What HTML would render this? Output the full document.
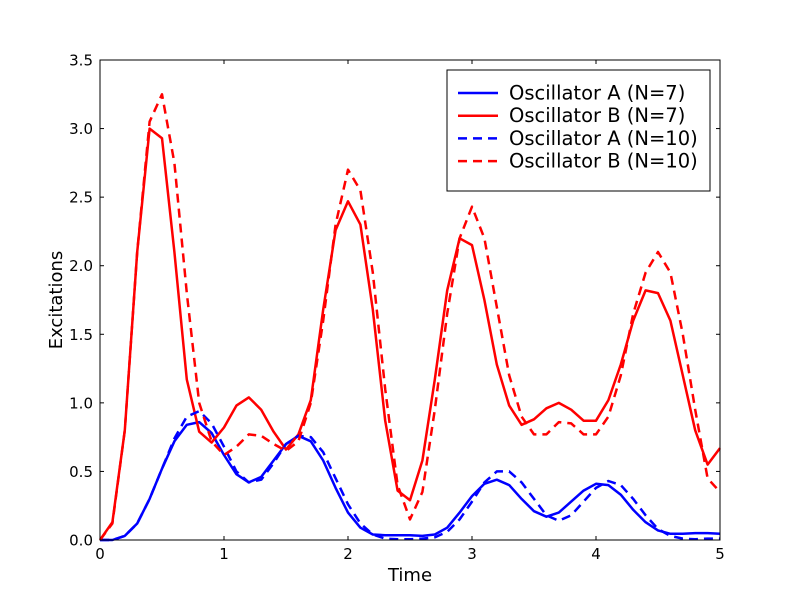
<!DOCTYPE html>
<html><head><meta charset="utf-8"><style>
html,body{margin:0;padding:0;background:#fff;}
svg{display:block;font-family:"DejaVu Sans","Liberation Sans",sans-serif;}
</style></head><body>
<svg id="chart" width="800" height="600">
<rect x="0" y="0" width="800" height="600" fill="#fff"/>
<g id="ticks"></g>
<g id="series"></g>
<rect x="100" y="60" width="620" height="480" fill="none" stroke="#000" stroke-width="1"/>
<text x="410" y="581" font-size="18" text-anchor="middle">Time</text>
<text x="62" y="300" font-size="18" text-anchor="middle" transform="rotate(-90 62 300)">Excitations</text>
<g id="legend">
<rect x="447" y="70" width="263" height="121" fill="#fff" stroke="#000" stroke-width="1"/>
</g>
</svg>
<script>
const times = [0,0.1,0.2,0.3,0.4,0.5,0.6,0.7,0.8,0.9,1.0,1.1,1.2,1.3,1.4,1.5,1.6,1.7,1.8,1.9,2.0,2.1,2.2,2.3,2.4,2.5,2.6,2.7,2.8,2.9,3.0,3.1,3.2,3.3,3.4,3.5,3.6,3.7,3.8,3.9,4.0,4.1,4.2,4.3,4.4,4.5,4.6,4.7,4.8,4.9,5.0];
const seriesA7 = [0,0,0.03,0.12,0.3,0.52,0.72,0.84,0.86,0.78,0.62,0.48,0.42,0.46,0.58,0.7,0.76,0.72,0.58,0.38,0.2,0.09,0.04,0.035,0.035,0.035,0.03,0.04,0.09,0.2,0.32,0.41,0.44,0.4,0.3,0.21,0.17,0.2,0.28,0.36,0.41,0.4,0.33,0.22,0.13,0.07,0.045,0.045,0.05,0.05,0.045];
const seriesB7 = [0,0.13,0.8,2.1,3.0,2.93,2.1,1.17,0.79,0.71,0.82,0.98,1.04,0.95,0.79,0.66,0.77,1.02,1.68,2.26,2.47,2.3,1.68,0.87,0.36,0.29,0.58,1.17,1.82,2.2,2.15,1.75,1.28,0.98,0.84,0.88,0.96,1.0,0.95,0.87,0.87,1.02,1.28,1.6,1.82,1.8,1.6,1.2,0.8,0.55,0.67];
const seriesA10 = [0,0,0.03,0.12,0.3,0.52,0.74,0.9,0.94,0.85,0.68,0.5,0.42,0.44,0.56,0.7,0.76,0.75,0.64,0.45,0.26,0.12,0.04,0.01,0.005,0.005,0.01,0.02,0.06,0.15,0.28,0.42,0.5,0.5,0.42,0.3,0.18,0.14,0.18,0.28,0.38,0.43,0.4,0.3,0.18,0.08,0.03,0.01,0.005,0.01,0.01];
const seriesB10 = [0,0.12,0.8,2.1,3.05,3.25,2.75,1.8,1.0,0.72,0.62,0.68,0.77,0.76,0.7,0.65,0.72,1.0,1.6,2.3,2.7,2.55,1.95,1.1,0.4,0.15,0.35,0.95,1.65,2.2,2.43,2.2,1.7,1.2,0.9,0.77,0.77,0.86,0.85,0.77,0.77,0.9,1.2,1.65,1.95,2.1,1.95,1.5,0.95,0.45,0.35];
const xTicks = [0,1,2,3,4,5];
const yTicks = [0.0,0.5,1.0,1.5,2.0,2.5,3.0,3.5];
const legendLabels = ["Oscillator A (N=7)","Oscillator B (N=7)","Oscillator A (N=10)","Oscillator B (N=10)"];

const NS="http://www.w3.org/2000/svg";
const X0=100,X1=720,Y0=540,Y1=60;
function xs(v){return X0+(v-0)/(5-0)*(X1-X0);}
function ys(v){return Y0-(v-0)/(3.5-0)*(Y0-Y1);}
function mk(tag,attrs,parent){const e=document.createElementNS(NS,tag);for(const k in attrs)e.setAttribute(k,attrs[k]);parent.appendChild(e);return e;}

const tg=document.getElementById('ticks');
xTicks.forEach(t=>{
  const x=xs(t);
  const a=mk('line',{x1:x,x2:x,y1:540,y2:536,stroke:'#000'},tg);
  
  
  const b=mk('line',{x1:x,x2:x,y1:60,y2:64,stroke:'#000'},tg);
  
  
  const l=mk('text',{x:x,y:559,'font-size':15,'text-anchor':'middle'},tg);
  l.textContent=String(t);
  
  
});
yTicks.forEach(t=>{
  const y=ys(t);
  const a=mk('line',{x1:100,x2:104,y1:y,y2:y,stroke:'#000'},tg);
  
  
  const b=mk('line',{x1:716,x2:720,y1:y,y2:y,stroke:'#000'},tg);
  
  
  const l=mk('text',{x:93,y:y+5.5,'font-size':15,'text-anchor':'end'},tg);
  l.textContent=t.toFixed(1);
  
  
});

const sg=document.getElementById('series');
const defs=[[seriesA7,'#0000ff',null,'line-oscillator-a-n7'],[seriesB7,'#ff0000',null,'line-oscillator-b-n7'],[seriesA10,'#0000ff','9 6','line-oscillator-a-n10'],[seriesB10,'#ff0000','9 6','line-oscillator-b-n10']];
defs.forEach(d=>{
  const pts=times.map((t,i)=>xs(t).toFixed(1)+','+ys(d[0][i]).toFixed(1)).join(' ');
  const p=mk('polyline',{points:pts,fill:'none',stroke:d[1],'stroke-width':2.5,'stroke-linejoin':'round'},sg);
  if(d[2])p.setAttribute('stroke-dasharray',d[2]);
  
  
});

const lg=document.getElementById('legend');
legendLabels.forEach((lab,i)=>{
  const y=93+i*22.7;
  const l=mk('line',{x1:458,x2:498,y1:y,y2:y,stroke:defs[i][1],'stroke-width':2.5},lg);
  if(defs[i][2])l.setAttribute('stroke-dasharray','9 6');
  
  
  const t=mk('text',{x:509,y:y+6.5,'font-size':19.5},lg);
  t.textContent=lab;
  
  
});
</script>
</body></html>
